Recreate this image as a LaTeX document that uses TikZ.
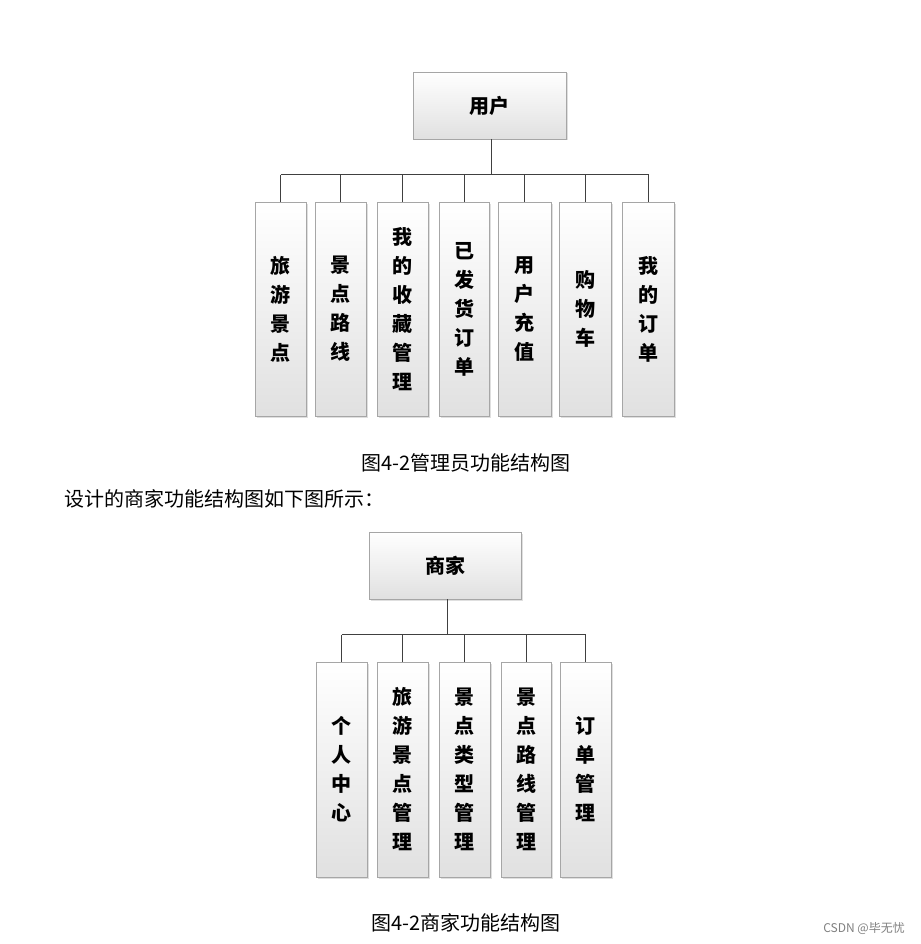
\documentclass[tikz,border=0pt]{standalone}
\usepackage{fontspec}
\newfontfamily\cjk{Noto Sans CJK SC}
\usetikzlibrary{shadows}
\begin{document}
\begin{tikzpicture}[x=1pt,y=-1pt,
  box/.style={draw=black!35,line width=0.8pt,top color=white,bottom color=black!12,
     drop shadow={shadow xshift=1.5pt,shadow yshift=-1.5pt,opacity=0.25},
     font=\cjk\bfseries\fontsize{20}{29}\selectfont,align=center,inner sep=0pt},
  conn/.style={draw=black!75,line width=0.7pt},
  captext/.style={font=\cjk\fontsize{20}{24}\selectfont,anchor=west,inner sep=0pt}]
\useasboundingbox (0,0) rectangle (920,944);
\fill[white] (0,0) rectangle (920,944);
% top
\node[box,minimum width=153pt,minimum height=67pt] (u) at (489.5,105.5) {用户};
\foreach \n/\a/\b/\t in {c1/255/306/{旅\\游\\景\\点},c2/315/366/{景\\点\\路\\线},c3/377/428/{我\\的\\收\\藏\\管\\理},c4/439/489/{已\\发\\货\\订\\单},c5/498/551/{用\\户\\充\\值},c6/559/611/{购\\物\\车},c7/622/674/{我\\的\\订\\单}}{
  \node[box,minimum width={\b-\a},minimum height=214pt] (\n) at ({(\a+\b)/2},309) {\t};}
\draw[conn] (491,139) -- (491,175);
\draw[conn] (c1.north) ++(0,-27) -| (c7.north);
\foreach \n in {c1,c2,c3,c4,c5,c6,c7}{\draw[conn] (\n.north) -- ++(0,-27);}
\node[captext,anchor=center] (cap1) at (466,463) {图4-2管理员功能结构图};
\node[captext] (txt) at (64,499) {设计的商家功能结构图如下图所示：};
% bottom
\node[box,minimum width=152pt,minimum height=67pt] (s) at (445,565.5) {商家};
\foreach \n/\a/\b/\t in {d1/316/367/{个\\人\\中\\心},d2/377/428/{旅\\游\\景\\点\\管\\理},d3/439/490/{景\\点\\类\\型\\管\\理},d4/501/551/{景\\点\\路\\线\\管\\理},d5/560/611/{订\\单\\管\\理}}{
  \node[box,minimum width={\b-\a},minimum height=215pt] (\n) at ({(\a+\b)/2},769.5) {\t};}
\draw[conn] (447,599) -- (447,635);
\draw[conn] (d1.north) ++(0,-27) -| (d5.north);
\foreach \n in {d1,d2,d3,d4,d5}{\draw[conn] (\n.north) -- ++(0,-27);}
\node[captext,anchor=center] (cap2) at (466,923) {图4-2商家功能结构图};
\node[font=\cjk\fontsize{12}{14}\selectfont,text=black!50,anchor=east,inner sep=0pt] (wm) at (905,928) {CSDN @毕无忧};
\end{tikzpicture}
\end{document}
